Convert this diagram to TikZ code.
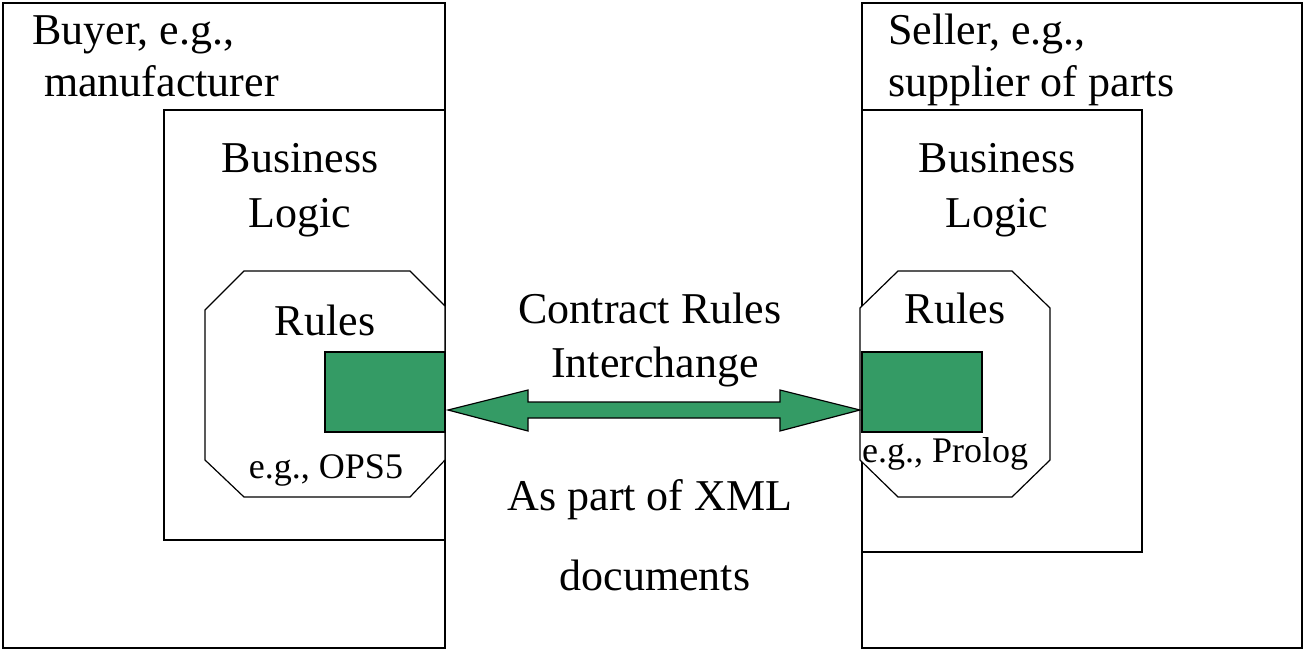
\documentclass[tikz,border=0pt]{standalone}
\usepackage{fontspec}
\setmainfont{Liberation Serif}
\begin{document}
\begin{tikzpicture}[x=1pt,y=-1pt,
  box/.style={draw=black,line width=1.2pt,fill=white},
  big/.style={font=\fontsize{44}{48}\selectfont,inner sep=0pt},
  sm/.style={font=\fontsize{36}{40}\selectfont,inner sep=0pt}]
\definecolor{g}{RGB}{52,155,101}
\useasboundingbox (0,0) rectangle (1308,652);
\draw[box] (3,3) rectangle (445,648);
\draw[box] (164,110) rectangle (445,540);
\draw[box] (244,271)--(410,271)--(445,306)--(445,460)--(410,497)--(244,497)--(205,460)--(205,310)--cycle;
\draw[line width=1.2pt,fill=g] (325,352) rectangle (445,432);
\draw[box] (862,3) rectangle (1302,648);
\draw[box] (862,110) rectangle (1142,552);
\draw[box] (898,271)--(1012,271)--(1050,308)--(1050,460)--(1012,497)--(898,497)--(860,460)--(860,308)--cycle;
\draw[line width=1.2pt,fill=g] (862,352) rectangle (982,432);
\draw[line width=1.2pt,fill=g] (448,410)--(528,390)--(528,402)--(780,402)--(780,390)--(860,410)--(780,431)--(780,418)--(528,418)--(528,431)--cycle;
\node[big,anchor=base west] (b1) at (32,45) {Buyer, e.g.,};
\node[big,anchor=base west] (b2) at (44,97) {manufacturer};
\node[big,anchor=base west] (s1) at (888,45) {Seller, e.g.,};
\node[big,anchor=base west] (s2) at (888,97) {supplier of parts};
\node[big,anchor=base] (bl1) at (300,173) {Business};
\node[big,anchor=base] (bl2) at (300,228) {Logic};
\node[big,anchor=base] (br1) at (997,173) {Business};
\node[big,anchor=base] (br2) at (997,228) {Logic};
\node[big,anchor=base] (rl) at (325,335) {Rules};
\node[big,anchor=base] (rr) at (955,323) {Rules};
\node[sm,anchor=base] (ol) at (326,478) {e.g., OPS5};
\node[sm,anchor=base] (or) at (945,462) {e.g., Prolog};
\node[big,anchor=base] (c1) at (650,323) {Contract Rules};
\node[big,anchor=base] (c2) at (655,377) {Interchange};
\node[big,anchor=base] (x1) at (650,510) {As part of XML};
\node[big,anchor=base] (x2) at (655,590) {documents};
\end{tikzpicture}
\end{document}
